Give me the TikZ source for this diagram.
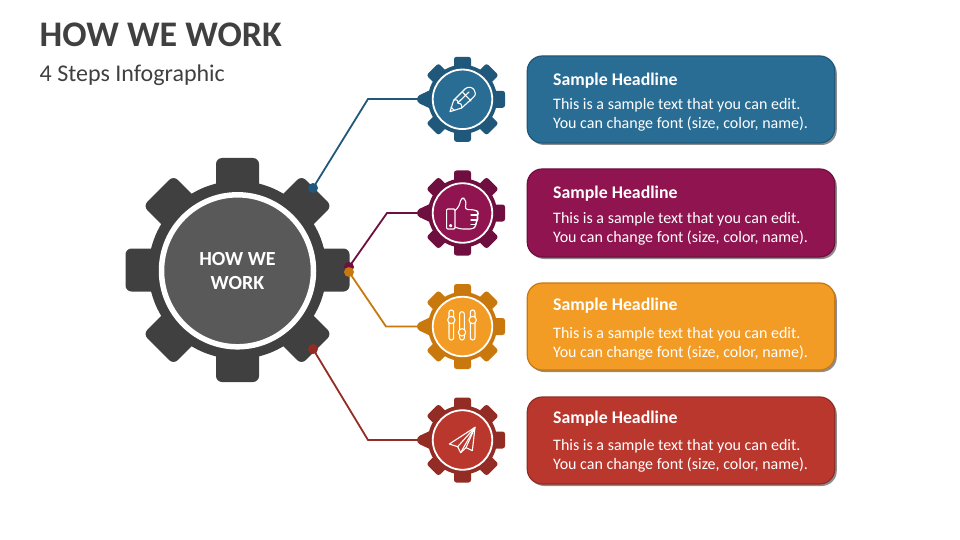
\documentclass[tikz,border=0pt]{standalone}
\usepackage{fontspec}
\setmainfont{Carlito}
\usetikzlibrary{shadows}
\definecolor{bluebody}{HTML}{2A6D94}
\definecolor{bluedark}{HTML}{1F587A}
\definecolor{magbody}{HTML}{8F1450}
\definecolor{magdark}{HTML}{6F0F3F}
\definecolor{orgbody}{HTML}{F39C25}
\definecolor{orgdark}{HTML}{C8780C}
\definecolor{redbody}{HTML}{BA372D}
\definecolor{reddark}{HTML}{922C25}
\definecolor{hubdark}{HTML}{404040}
\definecolor{hubbody}{HTML}{595959}
\tikzset{
  x=1pt,y=-1pt,
  linkline/.style={line width=1.8pt},
  dotnode/.style={circle,inner sep=0pt,minimum size=10pt},
  hubnode/.style={circle,draw=white,line width=5.5pt,fill=hubbody,minimum size=152pt,inner sep=0pt,align=center,text=white,font=\fontsize{20}{24}\selectfont\bfseries},
  gearhub/.style={circle,draw=white,line width=1.8pt,minimum size=59.5pt,inner sep=0pt},
  cardbox/.style={rounded corners=15pt,line width=1.2pt,drop shadow={shadow xshift=2pt,shadow yshift=-2pt,opacity=.45,fill=black}},
  headtext/.style={anchor=base west,inner sep=0pt,text=white,font=\fontsize{17.8}{20}\selectfont\bfseries},
  bodytext/.style={anchor=base west,inner sep=0pt,text=white,font=\fontsize{16}{18}\selectfont},
  iconline/.style={draw=white,line width=1.1pt,line join=round,line cap=round},
}
% #1 cx, #2 cy, #3 ring radius, #4 tooth half width, #5 tooth outer radius, #6 corner, #7 colour, #8 angles
\newcommand{\gearteeth}[8]{%
  \fill[#7] (#1,#2) circle[radius=#3];
  \foreach \a in {#8}{%
    \fill[#7,rotate around={\a:(#1,#2)},rounded corners=#6]
      (#1+#3*0.7,#2-#4) -- (#1+#5,#2-#4) -- (#1+#5,#2+#4) -- (#1+#3*0.7,#2+#4) -- cycle;
  }%
}
% small gear: #1 name, #2 cy, #3 dark, #4 body
\newcommand{\smallgear}[4]{%
  \gearteeth{462.5}{#2}{34.5}{8.5}{42.5}{2.5pt}{#3}{0,45,90,135,225,270,315}
  \fill[#3,rounded corners=3pt] (434,#2-11) -- (417,#2-3) -- (417,#2+3) -- (434,#2+11) -- cycle;
  \node[gearhub,fill=#4] (#1) at (462.5,#2) {};
  \coordinate (#1t) at (420,#2);
}
\newcommand{\mkcard}[8]{%
  \node[cardbox,draw=#4,fill=#5,minimum width=307.5pt,minimum height=#3pt-#2pt,inner sep=0pt] (#1) at (681,{(#2+#3)/2}) {};
  \node[headtext] (#1h) at (553,#6) {Sample Headline};
  \node[bodytext] (#1a) at (553,#7) {This is a sample text that you can edit.};
  \node[bodytext] (#1b) at (553,#8) {You can change font (size, color, name).};
}
\begin{document}
\begin{tikzpicture}
\useasboundingbox (0,0) rectangle (960,540);
\node[anchor=base west,inner sep=0pt,text=hubdark,font=\fontsize{36}{40}\selectfont\bfseries] (title) at (39.5,46.5) {HOW WE WORK};
\node[anchor=base west,inner sep=0pt,text=hubdark,font=\fontsize{24}{28}\selectfont] (subtitle) at (39.5,82) {4 Steps Infographic};

% central gear
\gearteeth{237.5}{270}{89}{21.5}{112}{6pt}{hubdark}{0,45,90,135,180,225,270,315}
\node[hubnode] (hub) at (237.5,270.8) {HOW WE\\[0pt]WORK};

% small gears
\smallgear{ga}{99.3}{bluedark}{bluebody}
\smallgear{gb}{213}{magdark}{magbody}
\smallgear{gc}{326.5}{orgdark}{orgbody}
\smallgear{gd}{440}{reddark}{redbody}

% connectors
\coordinate (ja) at (368,99);
\coordinate (jb) at (387,213);
\coordinate (jc) at (386,326.5);
\coordinate (jd) at (368,440);
\coordinate (gat) at (420,99);
\coordinate (gdt) at (420,440);
\node[dotnode,fill=bluedark] (da) at (313,188) {};
\node[dotnode,fill=magdark] (db) at (349,267) {};
\node[dotnode,fill=reddark] (dd) at (313,349) {};
\node[dotnode,fill=orgdark] (dc) at (349,272) {};
\draw[linkline,bluedark] (da.center) -- (ja) -- (gat);
\draw[linkline,magdark] (db.center) -- (jb) -- (gbt);
\draw[linkline,orgdark] (dc.center) -- (jc) -- (gct);
\draw[linkline,reddark] (dd.center) -- (jd) -- (gdt);

% icons
\begin{scope}[shift={(410,45)},scale=1/3]
  \draw[iconline] (120,200) -- (131,166) -- (166,131) .. controls (175,124) and (186,126) .. (192,134) .. controls (198,141) and (198,150) .. (190,157) -- (155,189) -- cycle;
  \draw[iconline] (131,166) .. controls (140,162) and (146,166) .. (143,174) .. controls (150,172) and (157,178) .. (155,189);
  \draw[iconline] (143,174) -- (177,141);
  \draw[iconline] (158,142) -- (183,168);
  \draw[iconline] (123,187) -- (133,196);
\end{scope}
\begin{scope}[shift={(410,160)},scale=1/3]
  \draw[iconline,rounded corners=1pt] (110,147) rectangle (135,207);
  \draw[iconline] (122,197) circle[radius=3.5];
  \draw[iconline,rounded corners=3pt] (135,152) -- (148,138) -- (153,114) -- (165,115) -- (169,132) -- (164,148) -- (198,150) -- (206,158) -- (201,168) -- (204,178) -- (198,186) -- (198,197) -- (190,207) -- (150,207) -- (135,201);
  \draw[iconline] (183,165) -- (201,165);
  \draw[iconline] (183,180) -- (201,180);
  \draw[iconline] (183,194) -- (196,194);
\end{scope}
\begin{scope}[shift={(410,275)},scale=1/3]
  \draw[iconline,rounded corners=2.3pt] (117,105) rectangle (131,195);
  \draw[iconline,rounded corners=2.3pt] (149,110) rectangle (163,195);
  \draw[iconline,rounded corners=2.3pt] (181,105) rectangle (195,195);
  \draw[iconline,fill=orgbody] (124,135) circle[radius=11];
  \draw[iconline,fill=orgbody] (156,172) circle[radius=11];
  \draw[iconline,fill=orgbody] (188,135) circle[radius=11];
\end{scope}
\begin{scope}[shift={(410,390)},scale=1/3]
  \draw[iconline] (195,112) -- (118,162) -- (143,170) -- (152,188) -- (168,173) -- (187,182) -- cycle;
  \draw[iconline] (195,112) -- (143,170);
  \draw[iconline] (195,112) -- (152,188);
  \draw[iconline] (195,112) -- (168,173);
\end{scope}

% cards
\mkcard{ca}{56}{143}{bluedark}{bluebody}{85.5}{109.5}{128.5}
\mkcard{cb}{169}{257}{magdark}{magbody}{198}{223}{242}
\mkcard{cc}{283}{370}{orgdark}{orgbody}{310}{338}{357}
\mkcard{cd}{397}{484}{reddark}{redbody}{423}{450}{469}
\end{tikzpicture}
\end{document}
